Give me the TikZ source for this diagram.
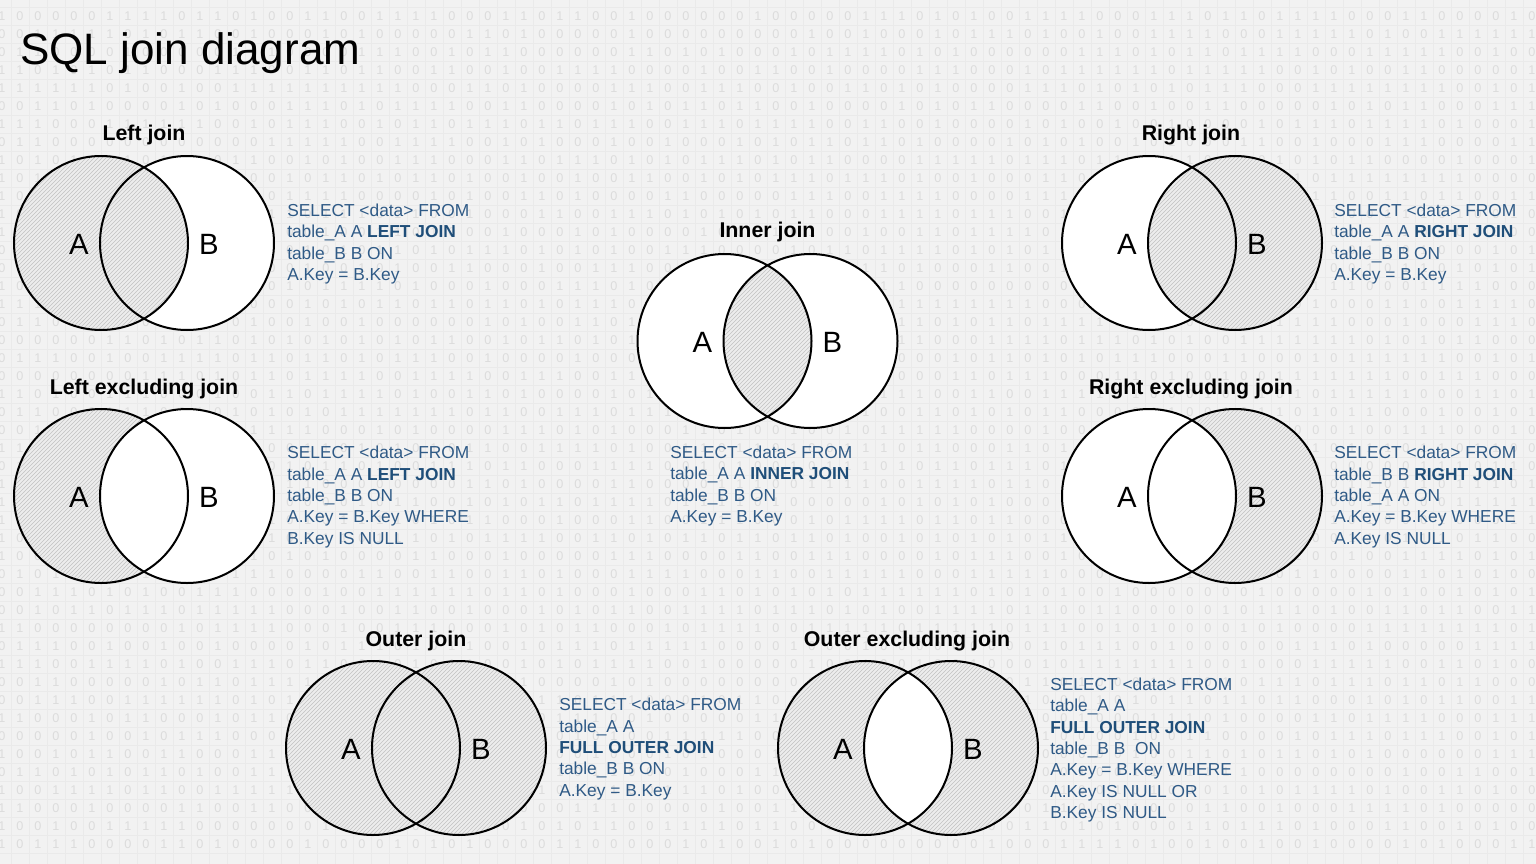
\documentclass[tikz,border=0pt]{standalone}
\usepackage{fontspec}
\setmainfont{Liberation Sans}
\usetikzlibrary{patterns}

\definecolor{paper}{HTML}{F2F2F2}
\definecolor{bitgray}{HTML}{DCDCDC}
\definecolor{cellline}{HTML}{EAEAEA}
\definecolor{hatchbg}{HTML}{EDEDED}
\definecolor{hatchln}{HTML}{C2C2C2}
\definecolor{sqlblue}{HTML}{2F5A86}
\definecolor{sqldark}{HTML}{1F4E79}

\newcommand\kw[1]{\textcolor{sqldark}{\bfseries #1}}
\newcommand\vr{65.25pt}

\begin{document}
\begin{tikzpicture}[x=0.75pt, y=-0.75pt,
    bit/.style = {font=\fontsize{9.5pt}{9.5pt}\selectfont, text=bitgray,
                  inner sep=0pt},
   ring/.style = {draw=black, line width=1.5pt},
  hatch/.style = {fill=hatchbg,
                  postaction={pattern=north east lines, pattern color=hatchln}},
   head/.style = {font=\fontsize{16pt}{19pt}\selectfont\bfseries,
                  anchor=base, inner sep=0pt},
 setlbl/.style = {font=\fontsize{22pt}{26pt}\selectfont, anchor=base,
                  inner sep=0pt},
  query/.style = {font=\fontsize{13pt}{16pt}\selectfont, text=sqlblue,
                  align=left, anchor=west, inner sep=0pt},
                    ]
\useasboundingbox (0,0) rectangle (1536,864);
\clip (0,0) rectangle (1536,864);
% background with binary digits
\fill[paper] (0,0) rectangle (1536,864);
\foreach \c in {0,...,85}
    \draw[cellline, line width=0.4pt] (11+18*\c,0) -- (11+18*\c,864);
\foreach \r in {0,...,48}
    \draw[cellline, line width=0.4pt] (0,7+18*\r) -- (1536,7+18*\r);
\pgfmathsetseed{1101}
\foreach \r in {1,...,47}
    \foreach \c in {0,...,85}{
        \pgfmathrandominteger{\b}{0}{1}
        \node[bit] (b-\r-\c) at (2+18*\c,-2+18*\r) {\b};
    }
\node[font=\fontsize{33pt}{38pt}\selectfont, anchor=base west, inner sep=0pt]
    (title) at (20,64) {SQL join diagram};
% left join
\coordinate (LJa) at (101,243);
\coordinate (LJb) at (187,243);
\fill[white]    (LJb) circle[radius=\vr];
\path[hatch]    (LJa) circle[radius=\vr];
\draw[ring]     (LJa) circle[radius=\vr] (LJb) circle[radius=\vr];
\node[head]     (LJh) at (144,140) {Left join};
\node[setlbl]   (LJA) at (79,254)  {A};
\node[setlbl]   (LJB) at (209,254) {B};
\node[query]    (LJq) at (287,244) {SELECT <data> FROM\\
                                    table\_A A \kw{LEFT JOIN}\\
                                    table\_B B ON\\
                                    A.Key = B.Key};
% right join
\coordinate (RJa) at (1149,243);
\coordinate (RJb) at (1235,243);
\fill[white]    (RJa) circle[radius=\vr];
\path[hatch]    (RJb) circle[radius=\vr];
\draw[ring]     (RJa) circle[radius=\vr] (RJb) circle[radius=\vr];
\node[head]     (RJh) at (1191,140) {Right join};
\node[setlbl]   (RJA) at (1127,254) {A};
\node[setlbl]   (RJB) at (1257,254) {B};
\node[query]    (RJq) at (1334,244) {SELECT <data> FROM\\
                                     table\_A A \kw{RIGHT JOIN}\\
                                     table\_B B ON\\
                                     A.Key = B.Key};
% inner join
\coordinate (IJa) at (724.5,341);
\coordinate (IJb) at (810.5,341);
\fill[white]    (IJa) circle[radius=\vr] (IJb) circle[radius=\vr];
\begin{scope}
    \clip       (IJa) circle[radius=\vr];
    \path[hatch] (IJb) circle[radius=\vr];
\end{scope}
\draw[ring]     (IJa) circle[radius=\vr] (IJb) circle[radius=\vr];
\node[head]     (IJh) at (767.5,237) {Inner join};
\node[setlbl]   (IJA) at (702.5,352) {A};
\node[setlbl]   (IJB) at (832.5,352) {B};
\node[query]    (IJq) at (670,486) {SELECT <data> FROM\\
                                    table\_A A \kw{INNER JOIN}\\
                                    table\_B B ON\\
                                    A.Key = B.Key};
% left excluding join
\coordinate (LXa) at (101,496);
\coordinate (LXb) at (187,496);
\path[hatch]    (LXa) circle[radius=\vr];
\fill[white]    (LXb) circle[radius=\vr];
\draw[ring]     (LXa) circle[radius=\vr] (LXb) circle[radius=\vr];
\node[head]     (LXh) at (144,394) {Left excluding join};
\node[setlbl]   (LXA) at (79,507)  {A};
\node[setlbl]   (LXB) at (209,507) {B};
\node[query]    (LXq) at (287,497) {SELECT <data> FROM\\
                                    table\_A A \kw{LEFT JOIN}\\
                                    table\_B B ON\\
                                    A.Key = B.Key WHERE\\
                                    B.Key IS NULL};
% right excluding join
\coordinate (RXa) at (1149,496);
\coordinate (RXb) at (1235,496);
\path[hatch]    (RXb) circle[radius=\vr];
\fill[white]    (RXa) circle[radius=\vr];
\draw[ring]     (RXa) circle[radius=\vr] (RXb) circle[radius=\vr];
\node[head]     (RXh) at (1191,394) {Right excluding join};
\node[setlbl]   (RXA) at (1127,507) {A};
\node[setlbl]   (RXB) at (1257,507) {B};
\node[query]    (RXq) at (1334,497) {SELECT <data> FROM\\
                                     table\_B B \kw{RIGHT JOIN}\\
                                     table\_A A ON\\
                                     A.Key = B.Key WHERE\\
                                     A.Key IS NULL};
% outer join
\coordinate (OJa) at (373,748);
\coordinate (OJb) at (459,748);
\path[hatch]    (OJa) circle[radius=\vr] (OJb) circle[radius=\vr];
\draw[ring]     (OJa) circle[radius=\vr] (OJb) circle[radius=\vr];
\node[head]     (OJh) at (416,646) {Outer join};
\node[setlbl]   (OJA) at (351,759) {A};
\node[setlbl]   (OJB) at (481,759) {B};
\node[query]    (OJq) at (559,749) {SELECT <data> FROM\\
                                    table\_A A\\
                                    \kw{FULL OUTER JOIN}\\
                                    table\_B B ON\\
                                    A.Key = B.Key};
% outer excluding join
\coordinate (OXa) at (865,748);
\coordinate (OXb) at (951,748);
\path[hatch]    (OXa) circle[radius=\vr] (OXb) circle[radius=\vr];
\begin{scope}
    \clip       (OXa) circle[radius=\vr];
    \fill[white] (OXb) circle[radius=\vr];
\end{scope}
\draw[ring]     (OXa) circle[radius=\vr] (OXb) circle[radius=\vr];
\node[head]     (OXh) at (907,646) {Outer excluding join};
\node[setlbl]   (OXA) at (843,759) {A};
\node[setlbl]   (OXB) at (973,759) {B};
\node[query]    (OXq) at (1050,750) {SELECT <data> FROM\\
                                     table\_A A\\
                                     \kw{FULL OUTER JOIN}\\
                                     table\_B B\ \ ON\\
                                     A.Key = B.Key WHERE\\
                                     A.Key IS NULL OR\\
                                     B.Key IS NULL};
\end{tikzpicture}
\end{document}
